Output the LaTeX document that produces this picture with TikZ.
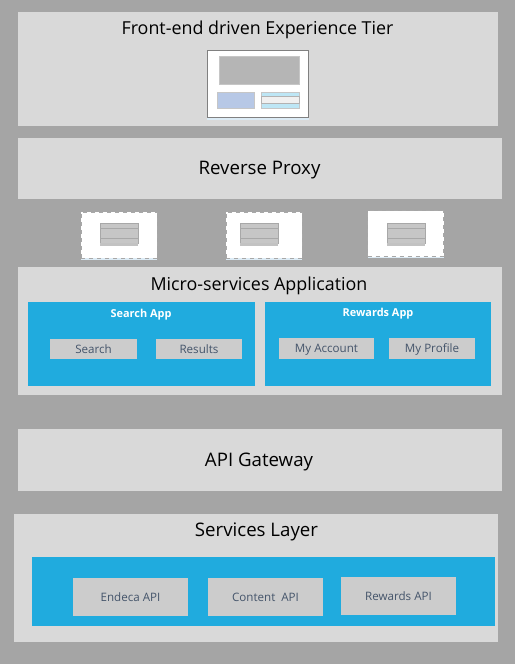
\documentclass[tikz,border=0pt]{standalone}
\usepackage{xcolor}
\usepackage{fontspec}
\setmainfont{Open Sans}
\definecolor{pagegrey}{HTML}{A5A5A5}
\definecolor{panelgrey}{HTML}{D9D9D9}
\definecolor{appblue}{HTML}{20ABDE}
\definecolor{btngrey}{HTML}{CCCCCC}
\definecolor{btntext}{HTML}{44546A}
\definecolor{mockgrey}{HTML}{B5B5B5}
\definecolor{mockblue}{HTML}{B7C8E6}
\definecolor{mockcyan}{HTML}{BDE6F5}
\definecolor{mockedge}{HTML}{A8A8A8}
\definecolor{slabgrey}{HTML}{C6C6C6}
\definecolor{shadowblue}{HTML}{DCEBF5}
\tikzset{
    panel/.style={fill=panelgrey, inner sep=0pt},
    tiertitle/.style={font=\fontsize{13.4}{16}\selectfont, text=black, inner sep=0pt},
    tierwide/.style={tiertitle, font=\fontsize{14}{16}\selectfont},
    appbox/.style={fill=appblue, inner sep=0pt},
    apptitle/.style={font=\fontsize{8.2}{9}\selectfont\bfseries, text=white, inner sep=0pt, text height=6pt, text depth=1.5pt},
    btn/.style={fill=btngrey, text=btntext, inner sep=0pt, text height=7.5pt, text depth=1.5pt, font=\fontsize{8.7}{9}\selectfont},
    shadow/.style={fill=shadowblue, inner sep=0pt, minimum width=57pt, minimum height=2pt},
    slot/.style={fill=white, draw=mockedge, dashed, line width=0.7pt, minimum width=57pt, minimum height=34.5pt, inner sep=0pt},
    slab/.style={fill=slabgrey, draw=mockedge, line width=0.5pt, minimum width=28.5pt, inner sep=0pt}
}
\begin{document}
\begin{tikzpicture}[x=0.75pt,y=-0.75pt]
    % Page
    \fill[pagegrey] (0,0) rectangle (515,664);
    \useasboundingbox (0,0) rectangle (515,664);

    % Experience tier
    \node[panel, minimum width=360pt, minimum height=85.5pt] (tier) at (258,69) {};
    \node[tiertitle] (tiertitle) at (257.5,30) {Front-end driven Experience Tier};
    \node[shadow, minimum width=76pt] (pageshadow) at (258,119) {};
    \node[fill=white, draw=gray, line width=0.7pt, minimum width=75.5pt, minimum height=50.5pt, inner sep=0pt] (page) at (258,84) {};
    \node[fill=mockgrey, draw=gray!45, line width=0.4pt, minimum width=60pt, minimum height=21pt, inner sep=0pt] (hero) at (259,70) {};
    \node[fill=mockblue, draw=gray!45, line width=0.4pt, minimum width=28pt, minimum height=12pt, inner sep=0pt] (teaser) at (236,100) {};
    \node[fill=mockcyan, draw=gray!45, line width=0.4pt, minimum width=28.5pt, minimum height=12pt, inner sep=0pt] (list) at (280,100) {};
    \node[fill=gray!12, draw=gray!60, line width=0.4pt, minimum width=28.5pt, minimum height=5.5pt, inner sep=0pt] (listrow) at (280,100) {};

    % Reverse proxy
    \node[panel, minimum width=363pt, minimum height=46pt] (proxy) at (260,168.5) {};
    \node[tierwide] (proxytitle) at (259.5,170) {Reverse Proxy};

    % Service slots
    \node[shadow] (shadowa) at (119,258.5) {};
    \node[slot] (slota) at (119,235) {};
    \node[slab, minimum height=3.75pt] (slotatop) at (119,225.5) {};
    \node[slab, minimum height=7.5pt] (slotarow) at (119,233) {};
    \node[slab, minimum height=3.75pt] (slotabot) at (119,240.5) {};
    \node[slab, draw=none, fill=mockedge!70, minimum height=2.25pt] (slotabase) at (119,244.5) {};

    \node[shadow] (shadowb) at (264,258.5) {};
    \node[slot] (slotb) at (264,235) {};
    \node[slab, minimum height=3.75pt] (slotbtop) at (259,225.5) {};
    \node[slab, minimum height=7.5pt] (slotbrow) at (259,233) {};
    \node[slab, minimum height=3.75pt] (slotbbot) at (259,240.5) {};
    \node[slab, draw=none, fill=mockedge!70, minimum height=2.25pt] (slotbbase) at (259,244.5) {};

    \node[shadow] (shadowc) at (405.5,257) {};
    \node[slot] (slotc) at (405.5,233.5) {};
    \node[slab, minimum height=3.75pt] (slotctop) at (406,225.5) {};
    \node[slab, minimum height=7.5pt] (slotcrow) at (406,233) {};
    \node[slab, minimum height=3.75pt] (slotcbot) at (406,240.5) {};
    \node[slab, draw=none, fill=mockedge!70, minimum height=2.25pt] (slotcbase) at (406,244.5) {};

    % Micro-services
    \node[panel, minimum width=363pt, minimum height=96pt] (micro) at (260,331) {};
    \node[tiertitle] (microtitle) at (259,286) {Micro-services Application};

    \node[appbox, minimum width=170.25pt, minimum height=63pt] (searchapp) at (141.5,344) {};
    \node[apptitle] (searchtitle) at (141,314) {Search App};
    \node[btn, minimum width=65.25pt, minimum height=15pt] (search) at (93.5,349) {Search};
    \node[btn, minimum width=64.5pt, minimum height=15pt] (results) at (199,349) {Results};

    \node[appbox, minimum width=169.5pt, minimum height=63pt] (rewardsapp) at (378,344) {};
    \node[apptitle] (rewardstitle) at (378,313) {Rewards App};
    \node[btn, minimum width=71.25pt, minimum height=15.75pt] (account) at (326.5,348.5) {My Account};
    \node[btn, minimum width=64.5pt, minimum height=15.75pt] (profile) at (432,348.5) {My Profile};

    % API gateway
    \node[panel, minimum width=363pt, minimum height=46.5pt] (gateway) at (260,460) {};
    \node[tierwide] (gatewaytitle) at (259,462) {API Gateway};

    % Services layer
    \node[panel, minimum width=363pt, minimum height=96pt] (services) at (256,578) {};
    \node[tierwide] (servicestitle) at (256.5,532) {Services Layer};
    \node[appbox, minimum width=347.25pt, minimum height=51.75pt] (apis) at (263.5,591.5) {};
    \node[btn, minimum width=86.25pt, minimum height=28.5pt] (endeca) at (130.5,597) {Endeca API};
    \node[btn, minimum width=86.25pt, minimum height=28.5pt] (content) at (265.5,597) {Content\ \ API};
    \node[btn, minimum width=86.25pt, minimum height=28.5pt] (rewards) at (398.5,596) {Rewards API};
\end{tikzpicture}
\end{document}
